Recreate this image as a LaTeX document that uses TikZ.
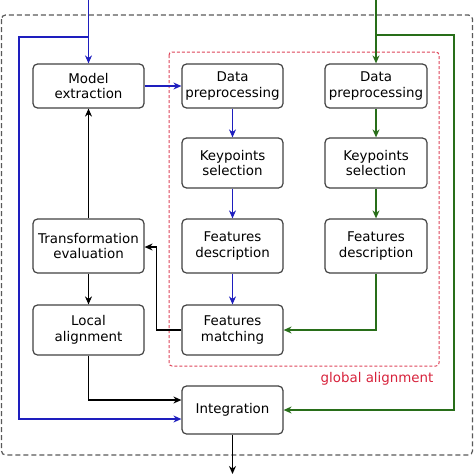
\documentclass[tikz,border=0pt]{standalone}
\usepackage{fontspec}
\setmainfont{DejaVu Sans}
\usetikzlibrary{arrows.meta}
\definecolor{lineblue}{RGB}{30,30,190}
\definecolor{linegreen}{RGB}{40,110,25}
\definecolor{globred}{RGB}{215,35,60}
\tikzset{
  box/.style={draw=black!75, line width=1.2pt, rounded corners=4.5pt, align=center, minimum width=101pt, inner sep=0pt, font=\fontsize{13.4}{15.5}\selectfont},
  arr/.style={line width=1.2pt, -{Stealth[length=8pt,width=7pt]}},
}
\begin{document}
\begin{tikzpicture}[x=1pt,y=-1pt]
\useasboundingbox (0,0) rectangle (474,474);
% outer frame and global alignment frame
\draw[black!65, line width=1.2pt, dash pattern=on 5pt off 3pt, rounded corners=4pt] (1.5,15) rectangle (472.5,455);
\draw[globred!85, line width=1pt, dash pattern=on 3pt off 2pt, rounded corners=3pt] (169,52) rectangle (439,366);
\node[globred, anchor=base east, font=\fontsize{13.4}{15.5}\selectfont] (glab) at (437,382) {global alignment};
% left column
\node[box, minimum width=111pt, minimum height=44pt] (me) at (88.5,86) {Model\\extraction};
\node[box, minimum width=111pt, minimum height=54pt] (te) at (88.5,246) {Transformation\\evaluation};
\node[box, minimum width=111pt, minimum height=50pt] (la) at (88.5,330) {Local\\alignment};
% middle column
\node[box, minimum height=44pt] (dp1) at (232.5,86) {Data\\preprocessing};
\node[box, minimum height=50pt] (ks1) at (232.5,163) {Keypoints\\selection};
\node[box, minimum height=54pt] (fd1) at (232.5,246) {Features\\description};
\node[box, minimum height=50pt] (fm1) at (232.5,330) {Features\\matching};
\node[box, minimum height=48pt] (integ) at (232.5,410) {Integration};
% right column
\node[box, minimum width=102pt, minimum height=44pt] (dp2) at (376,86) {Data\\preprocessing};
\node[box, minimum width=102pt, minimum height=50pt] (ks2) at (376,163) {Keypoints\\selection};
\node[box, minimum width=102pt, minimum height=54pt] (fd2) at (376,246) {Features\\description};
% free ends
\coordinate (bt) at (88.5,0);
\coordinate (bj) at (88.5,37);
\coordinate (bl) at (19,419);
\coordinate (gt) at (376,0);
\coordinate (gj) at (376,35);
\coordinate (gr) at (454,410);
\coordinate (res) at (232.5,474);
% blue model
\draw[arr, lineblue] (bt) -- (me);
\draw[arr, lineblue] (bj) -| (bl) -- (bl -| integ.west);
\draw[arr, lineblue] (me) -- (dp1);
\draw[arr, lineblue] (dp1) -- (ks1);
\draw[arr, lineblue] (ks1) -- (fd1);
\draw[arr, lineblue] (fd1) -- (fm1);
% green data
\draw[arr, linegreen] (gt) -- (dp2);
\draw[arr, linegreen] (gj) -| (gr) -- (integ.east);
\draw[arr, linegreen] (dp2) -- (ks2);
\draw[arr, linegreen] (ks2) -- (fd2);
\draw[arr, linegreen] (fd2) |- (fm1.east);
% black
\draw[arr] (te) -- (me);
\draw[arr] (te) -- (la);
\draw[arr] (fm1.west) -- ++(-25,0) |- ([yshift=-1pt]te.east);
\draw[arr] (la) |- ([yshift=10pt]integ.west);
\draw[arr] (integ) -- (res);
\end{tikzpicture}
\end{document}
